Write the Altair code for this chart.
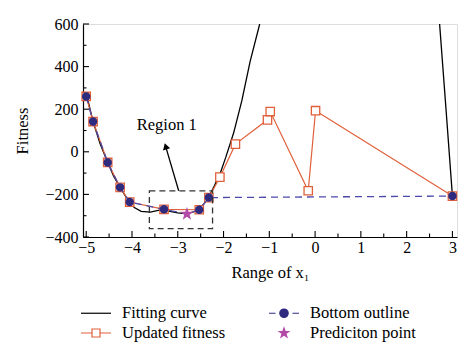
import math
import altair as alt
import pandas as pd

SERIF = "Liberation Serif"
ORANGE = "#e0603a"
NAVY = "#2e2a7e"
DASHBLUE = "#4b4aaa"
PURPLE = "#b24aa6"

# ---------------- data ----------------
fit_left_x = [-5.0, -4.85, -4.7, -4.53, -4.4, -4.26, -4.1, -3.95, -3.8, -3.6, -3.4,
              -3.2, -3.0, -2.8, -2.6, -2.45, -2.32, -2.2, -2.07, -1.95, -1.78, -1.6, -1.42, -1.21]
fit_left_y = [275, 142, 40, -50, -115, -167, -222, -262, -280, -283, -274,
              -278, -287, -291, -278, -250, -212, -160, -99, -25, 88, 240, 423, 600]
fit_right_x = [2.72, 2.86, 3.0]
fit_right_y = [600, 200, -208]

upd_x = [-5.0, -4.85, -4.53, -4.26, -4.05, -3.30, -2.53, -2.32, -2.08, -1.74,
         -1.04, -0.98, -0.15, 0.01, 3.0]
upd_y = [260, 142, -50, -167, -236, -270, -272, -215, -119, 36,
         150, 189, -183, 193, -208]

bot_x = [-5.0, -4.85, -4.53, -4.26, -4.05, -3.30, -2.80, -2.53, -2.32, 3.0]
bot_y = [260, 142, -50, -167, -236, -270, -292, -272, -215, -208]
bot_marker = [1, 1, 1, 1, 1, 1, 0, 1, 1, 1]

pred_x = [-2.80]
pred_y = [-292]

box_x = [-3.62]
box_x2 = [-2.24]
box_y = [-183]
box_y2 = [-361]

arrow_x = [-2.98]
arrow_y = [-183]
arrow_x2 = [-3.26]
arrow_y2 = [22]
head_x = [-3.264]
head_y = [26]

region_label = ["Region 1"]
region_x = [-3.24]
region_y = [128]

x_major = [-5, -4, -3, -2, -1, 0, 1, 2, 3]
x_minor = [-4.5, -3.5, -2.5, -1.5, -0.5, 0.5, 1.5, 2.5]
y_major = [-400, -200, 0, 200, 400, 600]
y_minor = [-300, -100, 100, 300, 500]

legend_names = ["Fitting curve", "Updated fitness", "Bottom outline", "Prediciton point"]

# ---------------- shapes ----------------
def star_path(R, r):
    pts = []
    for i in range(10):
        a = math.radians(-90 + 36 * i)
        rad = R if i % 2 == 0 else r
        pts.append(f"{rad * math.cos(a):.4f},{rad * math.sin(a):.4f}")
    return "M" + "L".join(pts) + "Z"

STAR = star_path(0.5, 0.2)
legend_paths = [
    "M-1.5,0H1.5",
    "M-1.5,0H-0.4M0.4,0H1.5M-0.4,-0.4H0.4V0.4H-0.4Z",
    "M-1.5,0H-0.85M0.85,0H1.5M-0.42,0A0.42,0.42,0,1,0,0.42,0A0.42,0.42,0,1,0,-0.42,0Z",
    STAR,
]
legend_fills = ["black", "white", NAVY, PURPLE]
legend_strokes = ["black", ORANGE, NAVY, PURPLE]

# ---------------- tables ----------------
fit_df = pd.DataFrame({
    "x": fit_left_x + fit_right_x,
    "y": fit_left_y + fit_right_y,
    "seg": ["a"] * len(fit_left_x) + ["b"] * len(fit_right_x),
    "o": list(range(len(fit_left_x))) + list(range(len(fit_right_x))),
})
upd_df = pd.DataFrame({"x": upd_x, "y": upd_y})
bot_df = pd.DataFrame({"x": bot_x, "y": bot_y, "m": bot_marker})
pred_df = pd.DataFrame({"x": pred_x, "y": pred_y})
box_df = pd.DataFrame({"x": box_x, "x2": box_x2, "y": box_y, "y2": box_y2})
arrow_df = pd.DataFrame({"x": arrow_x, "y": arrow_y, "x2": arrow_x2, "y2": arrow_y2})
head_df = pd.DataFrame({"x": head_x, "y": head_y})
label_df = pd.DataFrame({"t": region_label, "x": region_x, "y": region_y})
legend_df = pd.DataFrame({"series": legend_names, "x": [10] * 4, "y": [0] * 4})

W, H = 374, 213
xs = alt.Scale(domain=[-5.07, 3.1], nice=False, zero=False)
ys = alt.Scale(domain=[-400, 600], nice=False, zero=False)

x_axis = alt.Axis(values=x_major, ticks=False, grid=False, domainColor="black", domainWidth=1.2,
                  labelFont=SERIF, labelFontSize=16, labelColor="black", labelPadding=2,
                  titleFont=SERIF, titleFontSize=16.5, titleFontWeight="normal",
                  titleColor="black", titlePadding=9)
y_axis = alt.Axis(values=y_major, ticks=False, grid=False, domainColor="black", domainWidth=1.2,
                  labelFont=SERIF, labelFontSize=16, labelColor="black", labelPadding=5,
                  titleFont=SERIF, titleFontSize=16.5, titleFontWeight="normal",
                  titleColor="black", titlePadding=14)

X_TITLE = "Range of x\u2081"
Y_TITLE = "Fitness"

def X(**kw):
    return alt.X("x:Q", scale=xs, axis=x_axis, title=X_TITLE, **kw)

def Y(**kw):
    return alt.Y("y:Q", scale=ys, axis=y_axis, title=Y_TITLE, **kw)

fit = alt.Chart(fit_df).mark_line(color="black", strokeWidth=1.3, clip=True).encode(
    x=X(), y=Y(), detail="seg:N", order="o:Q")

upd_line = alt.Chart(upd_df).mark_line(color=ORANGE, strokeWidth=1.2).encode(x=X(), y=Y())
upd_pts = alt.Chart(upd_df).mark_point(shape="square", size=70, filled=True, fill="white",
                                       stroke=ORANGE, strokeWidth=1.3, opacity=1).encode(x=X(), y=Y())
bot_line = alt.Chart(bot_df).mark_line(color=DASHBLUE, strokeWidth=1.3, strokeDash=[7, 5]).encode(x=X(), y=Y())
bot_pts = alt.Chart(bot_df).transform_filter("datum.m == 1").mark_point(
    shape="circle", size=72, filled=True, color=NAVY, opacity=1).encode(x=X(), y=Y())
pred = alt.Chart(pred_df).mark_point(shape=STAR, size=800, filled=True, color=PURPLE, opacity=1).encode(x=X(), y=Y())

box = alt.Chart(box_df).mark_rect(fill=None, fillOpacity=0, stroke="#333333", strokeWidth=1.3,
                                  strokeDash=[6, 4]).encode(
    x=X(), x2="x2:Q", y=Y(), y2="y2:Q")
arrow = alt.Chart(arrow_df).mark_rule(color="black", strokeWidth=1.3).encode(
    x=X(), x2="x2:Q", y=Y(), y2="y2:Q")
head = alt.Chart(head_df).mark_point(shape="triangle-up", size=55, filled=True, color="black",
                                     angle=343.5, opacity=1).encode(x=X(), y=Y())
label = alt.Chart(label_df).mark_text(font=SERIF, fontSize=16.5, color="black").encode(
    x=X(), y=Y(), text="t:N")

xt_major = alt.Chart(pd.DataFrame({"x": x_major})).mark_rule(color="black", strokeWidth=1.1).encode(
    x=X(), y=alt.value(H), y2=alt.value(H - 6))
xt_minor = alt.Chart(pd.DataFrame({"x": x_minor})).mark_rule(color="black", strokeWidth=1.1).encode(
    x=X(), y=alt.value(H), y2=alt.value(H - 3.5))
yt_major = alt.Chart(pd.DataFrame({"y": y_major})).mark_rule(color="black", strokeWidth=1.1).encode(
    y=Y(), x=alt.value(0), x2=alt.value(6))
yt_minor = alt.Chart(pd.DataFrame({"y": y_minor})).mark_rule(color="black", strokeWidth=1.1).encode(
    y=Y(), x=alt.value(0), x2=alt.value(3.5))

leg = alt.Legend(title=None, orient="none", legendX=2, legendY=278, columns=2, columnPadding=40,
                 rowPadding=0, symbolSize=400, labelOffset=15, labelFont=SERIF, labelFontSize=16.5,
                 labelColor="black", padding=0, symbolStrokeWidth=1.2, labelLimit=300)
legend_layer = alt.Chart(legend_df).mark_point(clip=True, opacity=1, strokeWidth=1.2).encode(
    x=X(), y=Y(),
    shape=alt.Shape("series:N", scale=alt.Scale(domain=legend_names, range=legend_paths), legend=leg, sort=None),
    fill=alt.Fill("series:N", scale=alt.Scale(domain=legend_names, range=legend_fills), legend=leg, sort=None),
    stroke=alt.Stroke("series:N", scale=alt.Scale(domain=legend_names, range=legend_strokes), legend=leg, sort=None),
)

chart = alt.layer(
    fit, upd_line, upd_pts, bot_line, bot_pts, pred, box, arrow, head, label,
    xt_major, xt_minor, yt_major, yt_minor, legend_layer
).properties(
    width=W, height=H,
    autosize=alt.AutoSizeParams(type="none"),
    padding={"left": 75, "top": 16, "right": 9, "bottom": 115},
).configure_view(stroke=None).configure_axis(
    labelFont=SERIF, titleFont=SERIF
).configure_legend(labelFont=SERIF).configure(background="white")

chart.save("out.html", embed_options={"renderer": "svg", "actions": False})
